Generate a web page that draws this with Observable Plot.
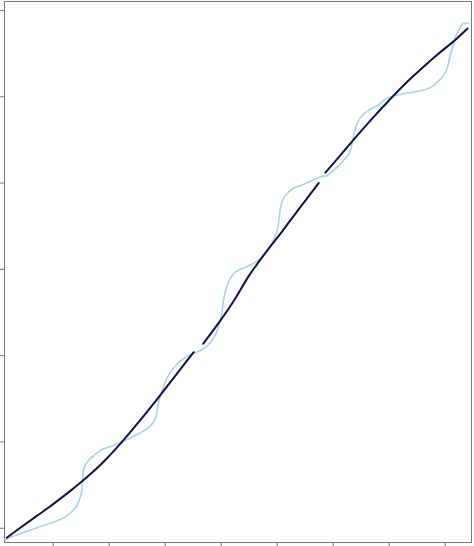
<!DOCTYPE html>
<html>
<head>
<meta charset="utf-8">
<script src="https://cdn.jsdelivr.net/npm/d3@7"></script>
<script src="https://cdn.jsdelivr.net/npm/@observablehq/plot@0.6"></script>
<style>
  html, body { margin: 0; padding: 0; background: #fff; }
</style>
</head>
<body>
<div id="chart"></div>
<script>
const xTicks = [0, 1, 2, 3, 4, 5, 6, 7];
const yTicks = [0, 1, 2, 3, 4, 5, 6];

const lightX = [-0.87, -0.58, -0.23, 0.08, 0.31, 0.45, 0.51, 0.52, 0.54, 0.59, 0.67, 0.84, 1.08, 1.29, 1.56, 1.74, 1.83, 1.88, 1.95, 2.04, 2.13, 2.22, 2.36, 2.51, 2.63, 2.76, 2.86, 2.95, 3.01, 3.04, 3.08, 3.15, 3.22, 3.38, 3.52, 3.76, 3.88, 3.95, 4.01, 4.06, 4.11, 4.18, 4.29, 4.42, 4.59, 4.77, 4.90, 5.01, 5.08, 5.18, 5.31, 5.36, 5.40, 5.49, 5.63, 5.79, 5.93, 6.08, 6.20, 6.38, 6.56, 6.68, 6.79, 6.86, 6.95, 7.04, 7.09, 7.13, 7.18, 7.24, 7.33, 7.42];
const lightY = [-0.13, -0.06, 0.02, 0.09, 0.18, 0.30, 0.44, 0.53, 0.67, 0.75, 0.81, 0.90, 0.96, 1.02, 1.11, 1.19, 1.28, 1.45, 1.60, 1.75, 1.84, 1.91, 1.98, 2.03, 2.06, 2.12, 2.20, 2.33, 2.49, 2.64, 2.76, 2.88, 2.95, 3.01, 3.05, 3.16, 3.27, 3.37, 3.47, 3.72, 3.82, 3.88, 3.94, 3.97, 4.02, 4.07, 4.09, 4.15, 4.19, 4.26, 4.38, 4.53, 4.64, 4.76, 4.84, 4.90, 4.97, 5.01, 5.03, 5.05, 5.07, 5.09, 5.13, 5.17, 5.23, 5.34, 5.48, 5.57, 5.69, 5.77, 5.85, 5.85];

const darkX = [-0.83, -0.60, -0.30, 0.00, 0.30, 0.60, 0.90, 1.20, 1.50, 1.80, 2.10, 2.40, 2.51, 2.60, 2.68, 2.90, 3.20, 3.50, 3.80, 4.10, 4.40, 4.74, 4.80, 4.86, 5.10, 5.40, 5.70, 6.00, 6.30, 6.60, 6.90, 7.20, 7.40];
const darkY = [-0.11, 0.00, 0.14, 0.28, 0.43, 0.59, 0.77, 0.98, 1.21, 1.45, 1.70, 1.95, 2.04, null, 2.14, 2.33, 2.61, 2.93, 3.20, 3.45, 3.71, 4.00, null, 4.12, 4.30, 4.53, 4.75, 4.96, 5.16, 5.34, 5.51, 5.67, 5.79];

const light = lightX.map((x, i) => ({x, y: lightY[i]}));
const dark = darkX.map((x, i) => ({x, y: darkY[i]}));

const chart = Plot.plot({
  width: 474,
  height: 546,
  marginLeft: 4,
  marginRight: 3,
  marginTop: 1,
  marginBottom: 4,
  style: {color: "#777", background: "#fff"},
  x: {domain: [-0.87, 7.47]},
  y: {domain: [-0.165, 6.104]},
  marks: [
    Plot.frame({stroke: "#777"}),
    Plot.axisX(xTicks, {tickSize: 4, tickFormat: () => "", label: null}),
    Plot.axisY(yTicks, {tickSize: 4, tickFormat: () => "", label: null}),
    Plot.line(light, {x: "x", y: "y", stroke: "#aed3e3", strokeWidth: 1.6, curve: "monotone-x"}),
    Plot.line(dark, {x: "x", y: "y", stroke: "#131347", strokeWidth: 2, curve: "monotone-x"})
  ]
});
document.getElementById("chart").appendChild(chart);
</script>
</body>
</html>
